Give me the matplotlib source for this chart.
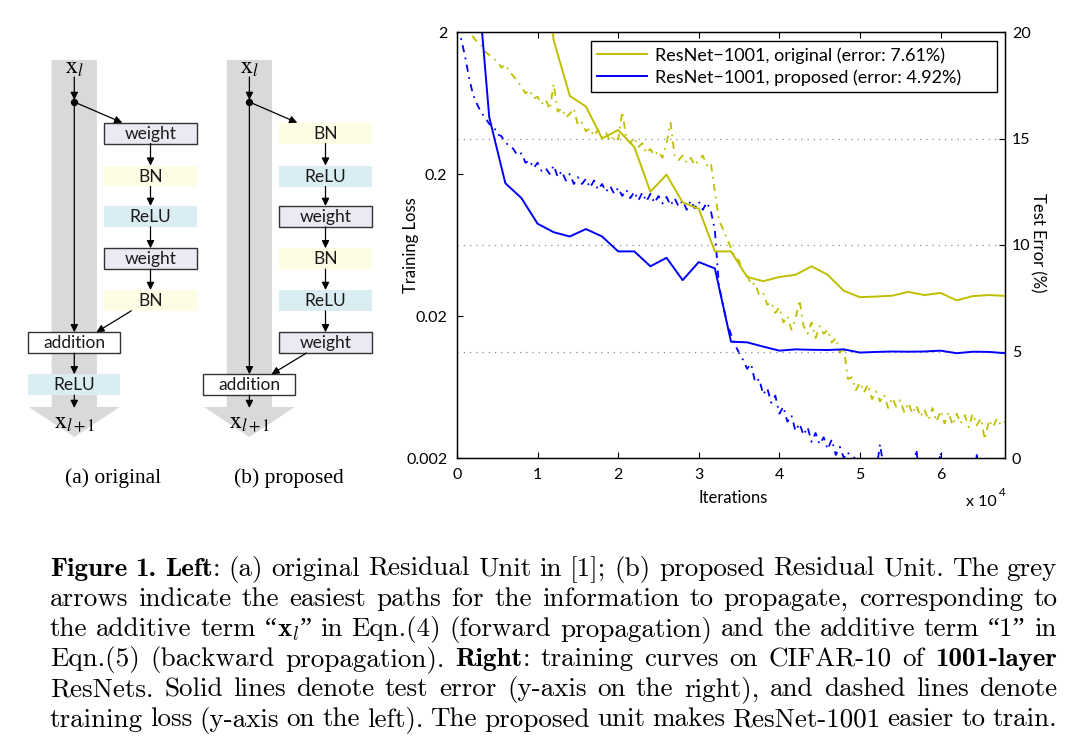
import numpy as np
import matplotlib
matplotlib.use("Agg")
import matplotlib.pyplot as plt
from matplotlib.patches import Polygon, Rectangle, FancyArrowPatch
from matplotlib.ticker import NullLocator

W, H = 1075, 756

# ---- chart data (iterations in units of 10^4) ----
err_iters = [0.2, 0.4, 0.6, 0.8, 1.0, 1.2, 1.4, 1.6, 1.8, 2.0, 2.2, 2.4, 2.6, 2.8, 3.0, 3.2, 3.4,
             3.6, 3.8, 4.0, 4.2, 4.4, 4.6, 4.8, 5.0, 5.2, 5.4, 5.6, 5.8, 6.0, 6.2, 6.4, 6.6, 6.8]
orig_err = [60, 48, 40, 33, 26, 19.6, 17.0, 16.5, 15.0, 15.4, 14.6, 12.5, 13.3, 12.0, 11.7, 9.7, 9.7,
            8.5, 8.3, 8.5, 8.6, 9.0, 8.6, 7.85, 7.55, 7.58, 7.62, 7.8, 7.65, 7.75, 7.4, 7.6, 7.65, 7.61]
prop_err = [25, 16.0, 12.9, 12.2, 11.0, 10.6, 10.4, 10.75, 10.4, 9.7, 9.7, 9.0, 9.4, 8.35, 9.2, 8.9, 5.46,
            5.43, 5.23, 5.04, 5.1, 5.08, 5.07, 5.1, 4.95, 4.98, 5.0, 4.99, 5.0, 5.04, 4.92, 4.99, 4.98, 4.92]

loss_iters = np.arange(0, 68001, 500) / 1e4
orig_loss = [2.30, 2.15, 2.05, 1.95, 1.85, 1.70, 1.62, 1.45, 1.38, 1.30, 1.25, 1.12, 1.18, 1.05, 0.98, 0.90,
             0.82, 0.74, 0.78, 0.68, 0.70, 0.62, 0.67, 0.57, 0.86, 0.55, 0.58, 0.50, 0.53, 0.58, 0.44, 0.46,
             0.40, 0.42, 0.37, 0.41, 0.36, 0.39, 0.34, 0.37, 0.35, 0.55, 0.36, 0.33, 0.36, 0.31, 0.33, 0.28,
             0.30, 0.27, 0.29, 0.26, 0.33, 0.46, 0.27, 0.25, 0.27, 0.24, 0.26, 0.23, 0.25, 0.27, 0.23, 0.24,
             0.15, 0.095, 0.082, 0.070, 0.060, 0.052, 0.049, 0.041, 0.039, 0.033, 0.034, 0.028, 0.029, 0.024,
             0.025, 0.021, 0.023, 0.018, 0.020, 0.016, 0.019, 0.026, 0.017, 0.015, 0.018, 0.014, 0.017, 0.015,
             0.016, 0.013, 0.014, 0.011, 0.012, 0.0072, 0.0074, 0.0060, 0.0068, 0.0058, 0.0066, 0.0052, 0.0059,
             0.0050, 0.0056, 0.0045, 0.0053, 0.0046, 0.0051, 0.0042, 0.0049, 0.0041, 0.0047, 0.0039, 0.0044,
             0.0037, 0.0045, 0.0036, 0.0043, 0.0035, 0.0042, 0.0034, 0.0041, 0.0035, 0.0040, 0.0033, 0.0041,
             0.0034, 0.0038, 0.0027, 0.0037, 0.0033, 0.0038, 0.0034, 0.0036]
prop_loss = [2.20, 1.80, 1.35, 0.95, 0.72, 0.62, 0.54, 0.50, 0.45, 0.44, 0.38, 0.37, 0.33, 0.32, 0.30, 0.27,
             0.28, 0.24, 0.25, 0.22, 0.24, 0.21, 0.22, 0.20, 0.23, 0.19, 0.21, 0.18, 0.20, 0.17, 0.19, 0.17,
             0.185, 0.16, 0.18, 0.155, 0.17, 0.15, 0.165, 0.145, 0.16, 0.14, 0.155, 0.135, 0.15, 0.13, 0.148,
             0.128, 0.145, 0.125, 0.14, 0.124, 0.138, 0.12, 0.135, 0.118, 0.13, 0.112, 0.13, 0.115, 0.128,
             0.112, 0.126, 0.11, 0.08, 0.033, 0.024, 0.018, 0.0148, 0.0125, 0.011, 0.0098, 0.0085, 0.0092,
             0.0068, 0.0072, 0.0056, 0.0062, 0.0049, 0.0055, 0.0041, 0.0046, 0.0036, 0.0040, 0.0031, 0.0035,
             0.0029, 0.0033, 0.0026, 0.0030, 0.0025, 0.0028, 0.0023, 0.0027, 0.0021, 0.0024, 0.0020, 0.0022,
             0.0019, 0.0021, 0.0018, 0.0019, 0.0017, 0.0018, 0.0016, 0.0025, 0.0016, 0.0015, 0.0016, 0.0014,
             0.0015, 0.0014, 0.0015, 0.0014, 0.0023, 0.0013, 0.0014, 0.0013, 0.0014, 0.0013, 0.0022, 0.0013,
             0.0014, 0.0013, 0.0012, 0.0013, 0.0012, 0.0013, 0.0012, 0.0021, 0.0012, 0.0012, 0.0011, 0.0012,
             0.0011, 0.0012, 0.0011]

series_names = ["ResNet\u22121001, original (error: 7.61%)",
                "ResNet\u22121001, proposed (error: 4.92%)"]
loss_ticks = [0.002, 0.02, 0.2, 2]
loss_labels = ["0.002", "0.02", "0.2", "2"]
err_ticks = [0, 5, 10, 15, 20]

# ---- diagram content ----
orig_layers = ["weight", "BN", "ReLU", "weight", "BN"]
prop_layers = ["BN", "ReLU", "weight", "BN", "ReLU", "weight"]

caption = [
    [("Figure 1. Left", "b"), (": (a) original Residual Unit in [1]; (b) proposed Residual Unit. The grey", "r")],
    [("arrows indicate the easiest paths for the information to propagate, corresponding to", "r")],
    [("the additive term \u201c", "r"), (r"$\mathbf{x}_l$", "m"),
     ("\u201d in Eqn.(4) (forward propagation) and the additive term \u201c1\u201d in", "r")],
    [("Eqn.(5) (backward propagation). ", "r"), ("Right", "b"),
     (": training curves on CIFAR-10 of ", "r"), ("1001-layer", "b")],
    [("ResNets. Solid lines denote test error (y-axis on the right), and dashed lines denote", "r")],
    [("training loss (y-axis on the left). The proposed unit makes ResNet-1001 easier to train.", "r")],
]

YELLOW = (0.75, 0.75, 0.0)
BLUE = (0.0, 0.0, 1.0)
SANS = ["Lato", "DejaVu Sans"]
plt.rcParams["font.family"] = SANS

fig = plt.figure(figsize=(W / 100, H / 100), dpi=100)

# overlay axes in pixel coordinates for the diagram and the caption
dax = fig.add_axes([0, 0, 1, 1])
dax.set_xlim(0, W)
dax.set_ylim(H, 0)
dax.axis("off")


def grey_arrow(cx, half, head_half, top, neck, tip):
    pts = [(cx - half, top), (cx + half, top), (cx + half, neck), (cx + head_half, neck),
           (cx, tip), (cx - head_half, neck), (cx - half, neck)]
    dax.add_patch(Polygon(pts, closed=True, fc="#d9d9d9", ec="none", zorder=1))


box_style = {"weight": ("#ebe9f1", "#333333"), "BN": ("#fdfde6", "none"),
             "ReLU": ("#daedf3", "none"), "addition": ("white", "#333333")}
row_top = [122.7, 165.7, 206, 248.3, 290, 332.3, 374.3]
box_h = 20.8


def layer_box(x0, x1, row, name):
    fc, ec = box_style[name]
    dax.add_patch(Rectangle((x0, row_top[row]), x1 - x0, box_h, fc=fc, ec=ec, lw=1.0, zorder=3))
    dax.text((x0 + x1) / 2, row_top[row] + box_h / 2 + 0.5, name, ha="center", va="center",
             fontsize=12.5, color="#1a1a1a", zorder=4)


def arrow(p0, p1):
    dax.add_patch(FancyArrowPatch(p0, p1, arrowstyle="-|>,head_length=4.5,head_width=2.2",
                                  mutation_scale=1, lw=0.9, color="black",
                                  shrinkA=0, shrinkB=0, zorder=5))


def unit(cx, bx0, bx1, layers, add_row, label, relu_after):
    grey_arrow(cx, 22.6, 45.4, 60, 407, 437)
    dax.text(cx, 68, r"$\mathrm{x}_{l}$", math_fontfamily="stix", fontsize=17,
             ha="center", va="center", zorder=4)
    dax.text(cx, 424, r"$\mathrm{x}_{l+1}$", math_fontfamily="stix", fontsize=17,
             ha="center", va="center", zorder=4)
    arrow((cx, 77), (cx, 100))
    dax.plot([cx], [102], "o", ms=4.2, color="black", zorder=6)
    arrow((cx, 102), (bx0 + 18, row_top[0]))
    arrow((cx, 102), (cx, row_top[add_row]))
    bc = (bx0 + bx1) / 2
    for i, name in enumerate(layers):
        layer_box(bx0, bx1, i, name)
        if i > 0:
            arrow((bc, row_top[i - 1] + box_h), (bc, row_top[i]))
    last = len(layers) - 1
    arrow((bx0 + 27, row_top[last] + box_h), (cx + 22, row_top[add_row]))
    layer_box(cx - 46, cx + 46, add_row, "addition")
    if relu_after:
        arrow((cx, row_top[add_row] + box_h), (cx, row_top[add_row + 1]))
        layer_box(cx - 46, cx + 46, add_row + 1, "ReLU")
        arrow((cx, row_top[add_row + 1] + box_h), (cx, 408))
    else:
        arrow((cx, row_top[add_row] + box_h), (cx, 408))
    dax.text(cx + 39, 478, label, family=["Liberation Serif"], fontsize=15.5,
             ha="center", va="center")


unit(74.3, 104.3, 196.7, orig_layers, 5, "(a) original", True)
unit(249.4, 279.3, 371.7, prop_layers, 6, "(b) proposed", False)

# ---- caption, justified between two margins ----
cap_fonts = {"r": dict(family=["cmr10", "Liberation Serif"]),
             "b": dict(family=["cmb10", "Liberation Serif"]),
             "m": dict(family=["cmr10"], math_fontfamily="cm")}
cap_size = 19.5
cap_left, cap_right = 50, 1057
cap_base = 576
cap_step = 30.1

renderer = fig.canvas.get_renderer()
for li, segs in enumerate(caption):
    words, cur = [], []
    for txt, st in segs:
        parts = txt.split(" ")
        for i, p in enumerate(parts):
            if i > 0 and cur:
                words.append(cur)
                cur = []
            if p:
                cur.append((p, st))
    if cur:
        words.append(cur)
    y = cap_base + li * cap_step
    artists, widths = [], []
    for w in words:
        arts = []
        ww = 0
        for p, st in w:
            t = dax.text(0, y, p, fontsize=cap_size, va="baseline", ha="left", **cap_fonts[st])
            bw = t.get_window_extent(renderer=renderer).width
            arts.append((t, bw))
            ww += bw
        artists.append(arts)
        widths.append(ww)
    gap = (cap_right - cap_left - sum(widths)) / (len(words) - 1)
    x = cap_left
    for arts, ww in zip(artists, widths):
        xx = x
        for t, bw in arts:
            t.set_x(xx)
            xx += bw
        x += ww + gap

# ---- chart ----
FS = 11.5
ax = fig.add_axes([457 / W, 1 - 458 / H, 548 / W, 426 / H])
ax.plot(loss_iters, orig_loss, color=YELLOW, lw=1.3, ls=(0, (4, 3, 1, 3)))
ax.plot(loss_iters, prop_loss, color=BLUE, lw=1.3, ls=(0, (4, 3, 1, 3)))
ax.set_yscale("log")
ax.set_ylim(0.002, 2)
ax.set_xlim(0, 6.8)
ax.set_yticks(loss_ticks)
ax.set_yticklabels(loss_labels)
ax.yaxis.set_minor_locator(NullLocator())
ax.set_xticks(range(7))
ax.tick_params(direction="in", length=4, width=0.8, top=True, right=False, labelsize=FS)
ax.tick_params(axis="y", pad=7)
ax.tick_params(axis="x", pad=7)
for s in ax.spines.values():
    s.set_linewidth(1.0)
ax.set_ylabel("Training Loss", fontsize=12)
ax.yaxis.set_label_coords(-0.07, 0.5)
ax.set_xlabel("Iterations", fontsize=12)
ax.xaxis.set_label_coords(0.504, -0.075)

ax2 = ax.twinx()
for y in err_ticks[1:-1]:
    ax2.axhline(y, color="#8c8c8c", lw=0.9, ls=(0, (1, 4)), zorder=0.5)
l1, = ax2.plot(err_iters, orig_err, color=YELLOW, lw=1.4)
l2, = ax2.plot(err_iters, prop_err, color=BLUE, lw=1.4)
ax2.set_ylim(0, 20)
ax2.set_yticks(err_ticks)
ax2.tick_params(direction="in", length=4, width=0.8, labelsize=FS, pad=5)
ax2.set_ylabel("Test Error (%)", fontsize=12, rotation=270)
ax2.yaxis.set_label_coords(1.075, 0.505)
leg = ax2.legend([l1, l2], series_names, loc="upper left",
                 bbox_to_anchor=(0.2445, 0.856, 0.7409, 0.1236), mode="expand",
                 borderaxespad=0, fontsize=13, handlelength=2.75, handletextpad=0.45,
                 borderpad=0.35, labelspacing=0.3, fancybox=False, framealpha=1)
leg.get_frame().set_edgecolor("black")
leg.get_frame().set_linewidth(1.0)

dax.text(997, 502, "x 10", fontsize=FS, ha="right", va="center")
dax.text(999, 493, "4", fontsize=8.5, ha="left", va="center")

fig.savefig("out.png", dpi=100)
